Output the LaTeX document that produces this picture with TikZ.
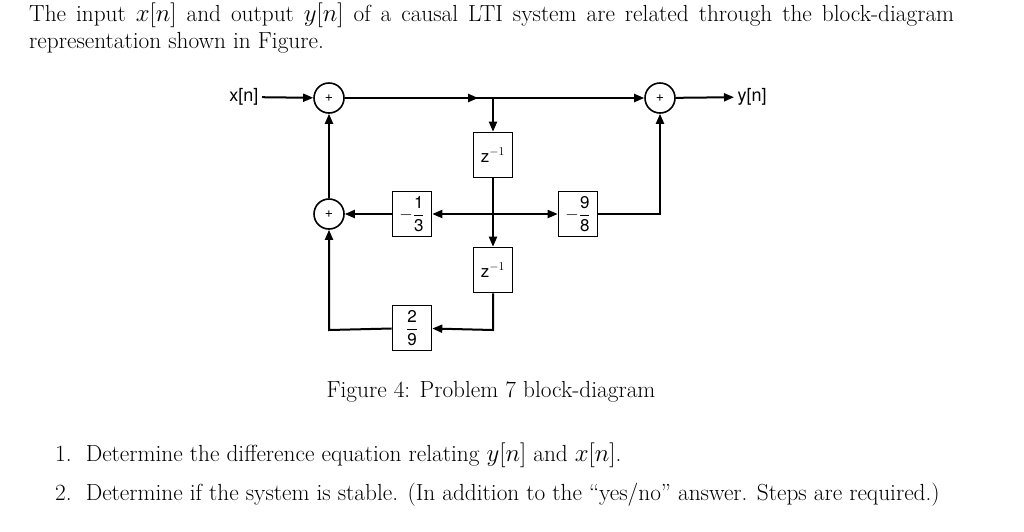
\documentclass[tikz,border=0pt]{standalone}
\usepackage{amsmath}
\usepackage{fontspec}
\newfontfamily\dsans{TeX Gyre Heros}
\newcommand{\sfr}[2]{\dfrac{\mbox{\dsans #1}}{\mbox{\dsans #2}}}
\usetikzlibrary{arrows.meta,decorations.markings}
\begin{document}
\begin{tikzpicture}[x=1pt,y=-1pt,
  sum/.style={circle,draw,line width=1.6pt,minimum size=30pt,inner sep=0pt,font=\dsans\fontsize{14}{14}\selectfont},
  blk/.style={draw,line width=1.6pt,minimum width=39pt,minimum height=45pt,inner sep=1pt,font=\dsans\fontsize{17}{17}\selectfont},
  w/.style={line width=2pt},
  arr/.style={w,-{Triangle[length=10pt,width=8pt]}},
  midarr/.style={w,decoration={markings,mark=at position #1 with {\arrow{Triangle[length=10pt,width=8pt]}}},postaction={decorate}},
  lab/.style={font=\dsans\fontsize{18}{18}\selectfont},
  txt/.style={font=\fontsize{23.3}{27}\selectfont,inner sep=0pt}]
\useasboundingbox (0,0) rectangle (1024,531);
\node[txt,anchor=north west,text width=925pt,align=justify] (hdr) at (29,3) {The input $x[n]$ and output $y[n]$ of a causal LTI system are related through the block-diagram representation shown in Figure.};
\node[lab,anchor=east] (x) at (262,97) {x[n]};
\node[sum] (s1) at (329,98) {+};
\node[sum] (s2) at (660,98) {+};
\node[sum] (s3) at (329,214) {+};
\node[lab,anchor=west] (y) at (734,97) {y[n]};
\coordinate (br) at (493,98);
\coordinate (cr) at (493,214);
\coordinate (bl) at (493,330);
\coordinate (bll) at (329,330);
\coordinate (rr) at (660,214);
\node[blk] (z1) at (493,155) {z$^{-1}$};
\node[blk] (z2) at (493,270) {z$^{-1}$};
\node[blk] (a1) at (412,214) {$-\sfr{1}{3}$};
\node[blk] (a2) at (578,214) {$-\sfr{9}{8}$};
\node[blk] (a3) at (412,328) {$\sfr{2}{9}$};
\draw[arr] (x) -- (s1);
\draw[midarr=0.9] (s1) -- (br);
\draw[arr] (br) -- (s2);
\draw[arr] (br) -- (z1);
\draw[w] (z1) -- (cr);
\draw[arr] (cr) -- (z2);
\draw[arr] (cr) -- (a1);
\draw[arr] (cr) -- (a2);
\draw[arr] (a1) -- (s3);
\draw[arr] (a2) -- (rr) -- (s2);
\draw[arr] (z2) -- (bl) -- (a3);
\draw[arr] (a3) -- (bll) -- (s3);
\draw[arr] (s3) -- (s1);
\draw[arr] (s2) -- (y);
\node[txt] (cap) at (491,392) {Figure 4: Problem 7 block-diagram};
\node[txt,anchor=west] (q1) at (55,455) {1.\ \ Determine the difference equation relating $y[n]$ and $x[n]$.};
\node[txt,anchor=west] (q2) at (55,495) {2.\ \ Determine if the system is stable. (In addition to the ``yes/no'' answer. Steps are required.)};
\end{tikzpicture}
\end{document}
